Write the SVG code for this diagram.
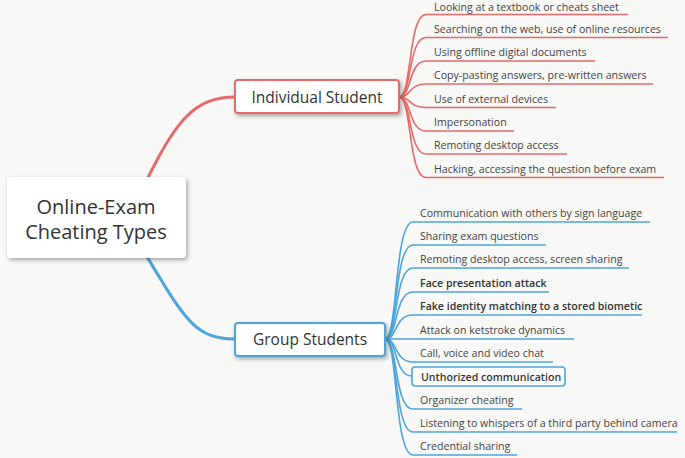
<svg xmlns="http://www.w3.org/2000/svg" width="685" height="458" viewBox="0 0 685 458">
<defs>
<filter id="sh" x="-10%" y="-20%" width="125%" height="150%">
<feDropShadow dx="1.5" dy="2" stdDeviation="2" flood-color="#000" flood-opacity="0.35"/>
</filter>
</defs>
<style>
text{font-family:"Open Sans","Noto Sans","Liberation Sans",sans-serif;fill:#444}
.c{font-size:20px;text-anchor:middle;fill:#333}
.m{font-size:15.5px;text-anchor:middle;fill:#333}
.l{font-size:10.6px}
.b{font-weight:600;fill:#333}
.r{fill:none;stroke:#e8696b}
.u{fill:none;stroke:#4ea5da}
.t{stroke-width:3}
.s{stroke-width:1.6}
</style>
<rect width="685" height="458" fill="#f8f8f6"/>
<g id="connectors">
<path class="r t" d="M143,188 C175,120 195,97 235,97"/>
<path class="u t" d="M143,250 C185,320 195,339 235,339"/>
<g class="r s">
<path d="M399,97 C412,97 408,14.5 426,14.5 L628,14.5"/>
<path d="M399,97 C412,97 408,37.5 426,37.5 L668,37.5"/>
<path d="M399,97 C412,97 408,61 426,61 L595,61"/>
<path d="M399,97 C412,97 408,84 426,84 L653,84"/>
<path d="M399,97 C412,97 408,107.5 426,107.5 L556,107.5"/>
<path d="M399,97 C412,97 408,131 426,131 L514,131"/>
<path d="M399,97 C412,97 408,154 426,154 L567,154"/>
<path d="M399,97 C412,97 408,177.5 426,177.5 L664,177.5"/>
</g>
<g class="u s">
<path d="M385,339 C398,339 394,222 413,222 L650,222"/>
<path d="M385,339 C398,339 394,245 413,245 L546,245"/>
<path d="M385,339 C398,339 394,268 413,268 L629,268"/>
<path d="M385,339 C398,339 394,292 413,292 L549,292"/>
<path d="M385,339 C398,339 394,315 413,315 L642,315"/>
<path d="M385,339 L574,339"/>
<path d="M385,339 C398,339 394,362 413,362 L553,362"/>
<path d="M385,339 C398,339 394,376 412,376"/>
<path d="M385,339 C398,339 394,409 413,409 L522,409"/>
<path d="M385,339 C398,339 394,432 413,432 L677,432"/>
<path d="M385,339 C398,339 394,455 413,455 L517,455"/>
</g>
</g>
<g id="root">
<rect x="7" y="177" width="179" height="81" rx="4" fill="#fff" filter="url(#sh)"/>
<text class="c" x="96" y="214">Online-Exam</text>
<text class="c" x="96" y="239">Cheating Types</text>
</g>
<g id="individual">
<rect x="235" y="80" width="164" height="33" rx="3" fill="#fff" stroke="#e8696b" stroke-width="2" filter="url(#sh)"/>
<text class="m" x="317" y="102.5">Individual Student</text>
</g>
<g id="group">
<rect x="235" y="323" width="150" height="33" rx="3" fill="#fff" stroke="#4ea5da" stroke-width="2" filter="url(#sh)"/>
<text class="m" x="310" y="345">Group Students</text>
</g>
<g id="ind-leaves">
<text class="l" x="434" y="10.5">Looking at a textbook or cheats sheet</text>
<text class="l" x="434" y="33">Searching on the web, use of online resources</text>
<text class="l" x="434" y="56">Using offline digital documents</text>
<text class="l" x="434" y="79">Copy-pasting answers, pre-written answers</text>
<text class="l" x="434" y="102.5">Use of external devices</text>
<text class="l" x="434" y="126">Impersonation</text>
<text class="l" x="434" y="149">Remoting desktop access</text>
<text class="l" x="434" y="172.5">Hacking, accessing the question before exam</text>
</g>
<g id="grp-leaves">
<text class="l" x="420" y="217">Communication with others by sign language</text>
<text class="l" x="420" y="240">Sharing exam questions</text>
<text class="l" x="420" y="263">Remoting desktop access, screen sharing</text>
<text class="l b" x="420" y="287">Face presentation attack</text>
<text class="l b" x="420" y="310">Fake identity matching to a stored biometic</text>
<text class="l" x="420" y="334">Attack on ketstroke dynamics</text>
<text class="l" x="420" y="357">Call, voice and video chat</text>
<g id="unauth">
<rect x="412" y="367" width="153" height="19" rx="3" fill="#fff" stroke="#4ea5da" stroke-width="1.6"/>
<text class="l b" x="421" y="380.5">Unthorized communication</text>
</g>
<text class="l" x="420" y="404">Organizer cheating</text>
<text class="l" x="420" y="427">Listening to whispers of a third party behind camera</text>
<text class="l" x="420" y="450">Credential sharing</text>
</g>
</svg>
